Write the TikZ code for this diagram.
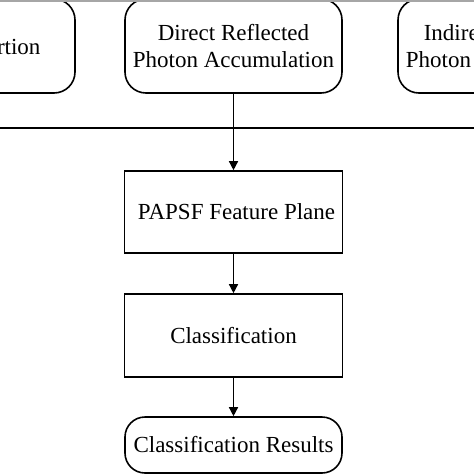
\documentclass[tikz,border=0pt]{standalone}
\usepackage{fontspec}
\setmainfont{Liberation Serif}
\usetikzlibrary{arrows.meta}
\tikzset{
  txt/.style={font=\fontsize{23}{27}\selectfont},
  roundbox/.style={draw, line width=1.6pt, rounded corners=21pt, minimum width=217pt, minimum height=94pt, align=center, inner sep=0pt, txt},
  sqbox/.style={draw, line width=1.6pt, minimum width=218pt, minimum height=82pt, align=center, inner sep=0pt, txt},
  endbox/.style={draw, line width=1.6pt, rounded corners=20pt, minimum width=217pt, minimum height=56pt, align=center, inner sep=0pt, txt},
  conn/.style={line width=1.4pt},
  arr/.style={conn, -{Triangle[length=9pt,width=9pt]}}
}
\begin{document}
\begin{tikzpicture}[x=1pt,y=-1pt]
\useasboundingbox (0,0) rectangle (474,474);
\clip (0,0) rectangle (474,474);
\fill[white] (0,0) rectangle (474,474);
\node[roundbox] (left) at (-33.5,46) {};
\node[txt, anchor=east] (lefttxt) at (44,47) {rtion};
\node[roundbox] (mid) at (233.5,46) {Direct Reflected\\Photon Accumulation};
\node[roundbox] (right) at (506.5,46) {Indirect Reflected\\Photon Accumulation};
\coordinate (hl) at (-5,128);
\coordinate (hr) at (480,128);
\draw[conn] (hl) -- (hr);
\node[sqbox] (papsf) at (233.5,212) {\hspace{6pt}PAPSF Feature Plane};
\node[sqbox, minimum height=83pt] (cls) at (233.5,335.5) {Classification};
\node[endbox] (res) at (233.5,445) {Classification Results};
\draw[arr] (mid.south) -- (papsf.north);
\draw[arr] (papsf.south) -- (cls.north);
\draw[arr] (cls.south) -- (res.north);
\fill[black!35] (0,0) rectangle (474,1.5);
\end{tikzpicture}
\end{document}
